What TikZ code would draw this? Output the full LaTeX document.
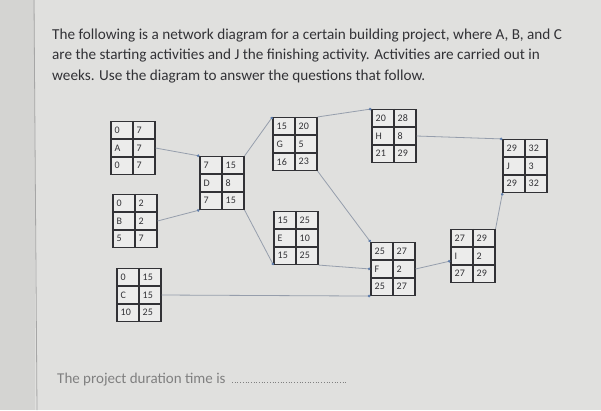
\documentclass[tikz,border=0pt]{standalone}
\usepackage{fontspec}
\setmainfont{Carlito}
\usepackage{tikz}
\usetikzlibrary{arrows.meta, calc}

\definecolor{paper}{RGB}{224,224,222}
\definecolor{strip}{RGB}{212,212,210}
\definecolor{inkgray}{RGB}{50,50,54}
\definecolor{linkgray}{RGB}{150,158,172}
\definecolor{dotblue}{RGB}{95,125,170}

\tikzset{
	actbox/.style={draw=inkgray, line width=1.1pt, fill=paper!60!white, minimum width=44pt, minimum height=53pt, inner sep=0pt},
	boxline/.style={draw=inkgray, line width=1.1pt},
	cell/.style={anchor=west, inner sep=0pt, text=inkgray, font=\fontsize{10}{10}\selectfont},
	link/.style={draw=linkgray, line width=0.8pt, -{Circle[length=2.6pt, fill=dotblue, color=dotblue]}},
}

% name, position, ES, EF, duration, LS, LF
\newcommand{\actbox}[7]{%
	\node[actbox] (#1) at (#2) {};
	\draw[boxline] (#1.north) -- (#1.south);
	\draw[boxline] ($(#1.north west)!1/3!(#1.south west)$) -- ($(#1.north east)!1/3!(#1.south east)$);
	\draw[boxline] ($(#1.north west)!2/3!(#1.south west)$) -- ($(#1.north east)!2/3!(#1.south east)$);
	\node[cell] at ($(#1)+(-18.5,-17.7)$) {#3};
	\node[cell] at ($(#1)+(3.5,-17.7)$) {#4};
	\node[cell] at ($(#1)+(-18.5,0)$) {#1};
	\node[cell] at ($(#1)+(3.5,0)$) {#5};
	\node[cell] at ($(#1)+(-18.5,17.7)$) {#6};
	\node[cell] at ($(#1)+(3.5,17.7)$) {#7};
}

\begin{document}
\begin{tikzpicture}[x=1pt, y=-1pt]

	\useasboundingbox (0,0) rectangle (601,410);
	\fill[paper] (0,0) rectangle (601,410);
	\fill[strip] (0,0) rectangle (35,410);
	\draw[gray!70, line width=0.8pt] (34,0) -- (37,410);

	% the base of a three line node is its last line
	\node[anchor=base west, align=left, inner sep=0pt, text=inkgray, font=\fontsize{15.2}{20.3}\selectfont] (intro) at (52,80)
		{The following is a network diagram for a certain building project, where A, B, and C\\
		 are the starting activities and J the finishing activity. Activities are carried out in\\
		 weeks. Use the diagram to answer the questions that follow.};

	\actbox{A}{133,148}{0}{7}{7}{0}{7}
	\actbox{B}{135,221}{0}{2}{2}{5}{7}
	\actbox{C}{139,295}{0}{15}{15}{10}{25}
	\actbox{D}{222,183}{7}{15}{8}{7}{15}
	\actbox{G}{295,144}{15}{20}{5}{16}{23}
	\actbox{E}{296,238}{15}{25}{10}{15}{25}
	\actbox{H}{394,136}{20}{28}{8}{21}{29}
	\actbox{F}{393,269}{25}{27}{2}{25}{27}
	\actbox{I}{473,256}{27}{29}{2}{27}{29}
	\actbox{J}{525,166}{29}{32}{3}{29}{32}

	% links between activities
	\draw[link] (A.east) -- (D.north west);
	\draw[link] (B.east) -- (D.south west);
	\draw[link] (D.north east) -- (G.north west);
	\draw[link] (D.south east) -- (E.south west);
	\draw[link] (G.north east) -- (H.north west);
	\draw[link] (G.south east) -- (F.north west);
	\draw[link] (E.south east) -- (F.west);
	\draw[link] (C.east) -- (F.south west);
	\draw[link] (F.east) -- ($(I.west)+(0,5)$);
	\draw[link] (H.east) -- (J.north west);
	\draw[link] (I.north east) -- (J.south west);

	\node[anchor=base west, inner sep=0pt, text=gray, font=\fontsize{15}{16}\selectfont] (duration) at (57,383)
		{The project duration time is};
	\draw[gray, line width=0.7pt, dotted] (232,382) -- (347,382);

\end{tikzpicture}
\end{document}
